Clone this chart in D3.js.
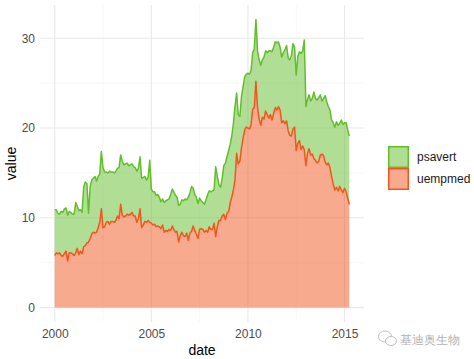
<!DOCTYPE html>
<html>
<head>
<meta charset="utf-8">
<script src="https://cdn.jsdelivr.net/npm/d3@7"></script>
<style>
body { margin: 0; background: #fff; }
svg text { font-family: "Liberation Sans", Arial, sans-serif; }
</style>
</head>
<body>
<div id="chart"></div>
<script>

// monthly values, Jan 2000 .. Apr 2015 (one row per year)
var firstMonth = new Date(2000, 0, 1);
var lastMonth = new Date(2015, 3, 1);

var psavert = [
  5.1, 4.8, 4.5, 4.3, 4.9, 4.9, 5.0, 4.8, 5.1, 4.6, 4.5, 4.4,
  4.6, 5.6, 4.7, 4.9, 4.6, 4.6, 6.6, 7.1, 6.6, 3.2, 5.8, 6.0,
  6.0, 6.3, 5.7, 5.7, 5.4, 6.4, 6.7, 6.1, 5.6, 5.4, 5.9, 5.5,
  5.5, 5.5, 5.5, 5.3, 5.7, 5.5, 6.0, 5.8, 5.8, 5.7, 5.5, 5.5,
  5.4, 5.5, 5.4, 5.7, 5.6, 5.8, 5.5, 5.3, 5.0, 4.7, 4.8, 6.9,
  3.8, 3.7, 3.6, 3.5, 3.5, 3.3, 3.0, 2.9, 3.3, 3.3, 3.5, 3.4,
  4.0, 4.1, 4.2, 4.1, 3.8, 4.1, 3.5, 3.6, 3.9, 4.2, 3.7, 4.8,
  4.5, 5.0, 4.2, 4.0, 4.1, 3.9, 3.5, 3.1, 3.0, 3.1, 3.4, 4.2,
  4.0, 4.2, 4.3, 3.7, 7.8, 5.6, 4.0, 3.7, 4.2, 5.4, 6.3, 6.3,
  6.8, 6.5, 6.8, 7.4, 8.2, 6.7, 5.5, 5.0, 5.7, 5.7, 5.9, 5.9,
  6.1, 6.1, 6.0, 6.3, 6.5, 6.9, 6.3, 6.6, 6.7, 6.4, 6.9, 6.7,
  6.9, 7.5, 7.1, 7.6, 7.4, 7.3, 7.5, 7.2, 7.0, 7.3, 7.6, 8.2,
  8.4, 8.1, 8.4, 8.9, 9.5, 8.9, 8.4, 9.7, 9.9, 10.7, 10.6, 12.2,
  6.6, 6.0, 6.0, 6.0, 6.2, 7.4, 6.9, 7.0, 7.1, 6.7, 5.9, 6.4,
  7.4, 7.0, 6.3, 6.4, 6.3, 6.8, 7.0, 7.3, 7.3, 7.0, 7.8, 7.6,
  7.3, 7.7, 7.6, 7.6
];

var uempmed = [
  5.8, 6.1, 6.0, 6.1, 5.8, 5.7, 6.0, 6.3, 5.2, 6.1, 6.1, 6.0,
  5.8, 6.1, 6.6, 5.9, 6.3, 6.0, 6.8, 6.9, 7.2, 7.3, 7.7, 8.2,
  8.4, 8.3, 8.4, 8.9, 9.5, 11.0, 8.9, 9.0, 9.5, 9.6, 9.3, 9.6,
  9.6, 9.5, 9.7, 10.2, 9.9, 11.5, 10.3, 10.1, 10.2, 10.4, 10.3, 10.4,
  10.6, 10.2, 10.2, 9.5, 9.9, 11.0, 8.9, 9.2, 9.6, 9.5, 9.7, 9.5,
  9.4, 9.2, 9.3, 9.0, 9.1, 9.0, 8.8, 9.2, 8.4, 8.6, 8.5, 8.7,
  8.6, 9.1, 8.7, 8.4, 8.5, 7.3, 8.0, 8.4, 8.0, 7.9, 8.3, 7.5,
  8.3, 8.5, 9.1, 8.6, 8.2, 7.7, 8.7, 8.8, 8.7, 8.4, 8.6, 8.4,
  9.0, 8.7, 8.7, 9.4, 7.9, 9.0, 9.7, 9.7, 10.2, 10.4, 9.8, 10.5,
  10.7, 11.7, 12.3, 13.1, 14.2, 17.2, 16.0, 16.3, 17.8, 18.9, 19.8, 20.1,
  20.0, 19.9, 20.4, 22.1, 22.3, 25.2, 22.3, 21.0, 20.3, 21.2, 21.0, 21.9,
  21.5, 21.1, 21.5, 20.9, 21.6, 22.3, 22.0, 22.4, 22.0, 20.6, 20.8, 20.5,
  20.8, 19.7, 19.2, 19.1, 19.9, 20.1, 17.5, 18.3, 18.6, 17.6, 18.0, 17.6,
  15.8, 17.2, 17.7, 17.0, 17.1, 16.6, 16.4, 16.1, 16.3, 17.0, 17.1, 16.9,
  16.2, 15.9, 16.1, 15.6, 14.6, 13.8, 13.1, 13.4, 13.0, 13.5, 13.1, 12.8,
  13.3, 12.9, 12.2, 11.5
];

var seriesNames = ["psavert", "uempmed"];
var seriesColors = {psavert: "#63be2c", uempmed: "#f2561d"};
var yTicks = [0, 10, 20, 30];
var xTickYears = [2000, 2005, 2010, 2015];

/**
 * Stacked area chart, ggplot theme_minimal look
 */
function AreaChart(){
    var self = this;
    self.init();
};

AreaChart.prototype.init = function(){
    var self = this;
    self.width = 474;
    self.height = 359;
    // panel box
    self.panel = {left: 40, right: 364, top: 5, bottom: 322};

    self.svg = d3.select("#chart").append("svg")
        .attr("width", self.width)
        .attr("height", self.height);

    self.x = d3.scaleTime().range([self.panel.left, self.panel.right]);
    self.y = d3.scaleLinear().range([self.panel.bottom, self.panel.top]);
};

AreaChart.prototype.update = function(){
    var self = this;
    var p = self.panel;

    var months = d3.timeMonth.range(firstMonth, d3.timeMonth.offset(lastMonth, 1));
    var rows = months.map(function(d, i){
        return {date: d, psavert: psavert[i], uempmed: uempmed[i]};
    });

    // uempmed at the bottom, psavert stacked on top
    var layers = d3.stack().keys(["uempmed", "psavert"])(rows);

    // 5% expansion like ggplot
    var span = lastMonth - firstMonth;
    self.x.domain([new Date(+firstMonth - span * 0.05), new Date(+lastMonth + span * 0.05)]);
    var ymax = d3.max(layers[1], function(d){ return d[1]; });
    self.y.domain([-ymax * 0.05, ymax * 1.05]);

    var grid = self.svg.append("g");

    // minor grid lines, half way between the major ones
    var xDates = xTickYears.map(function(yr){ return new Date(yr, 0, 1); });
    var xMinor = d3.pairs(xDates).map(function(pr){ return new Date((+pr[0] + +pr[1]) / 2); });
    var yMinor = d3.pairs(yTicks).map(function(pr){ return (pr[0] + pr[1]) / 2; });

    grid.selectAll(".xminor").data(xMinor).enter().append("line")
        .attr("x1", function(d){ return self.x(d); })
        .attr("x2", function(d){ return self.x(d); })
        .attr("y1", p.top).attr("y2", p.bottom)
        .attr("stroke", "#f2f2f2").attr("stroke-width", 0.6);
    grid.selectAll(".yminor").data(yMinor).enter().append("line")
        .attr("x1", p.left).attr("x2", p.right)
        .attr("y1", function(d){ return self.y(d); })
        .attr("y2", function(d){ return self.y(d); })
        .attr("stroke", "#f2f2f2").attr("stroke-width", 0.6);
    grid.selectAll(".xmajor").data(xDates).enter().append("line")
        .attr("x1", function(d){ return self.x(d); })
        .attr("x2", function(d){ return self.x(d); })
        .attr("y1", p.top).attr("y2", p.bottom)
        .attr("stroke", "#e9e9e9").attr("stroke-width", 1.1);
    grid.selectAll(".ymajor").data(yTicks).enter().append("line")
        .attr("x1", p.left).attr("x2", p.right)
        .attr("y1", function(d){ return self.y(d); })
        .attr("y2", function(d){ return self.y(d); })
        .attr("stroke", "#e9e9e9").attr("stroke-width", 1.1);

    var area = d3.area()
        .x(function(d){ return self.x(d.data.date); })
        .y0(function(d){ return self.y(d[0]); })
        .y1(function(d){ return self.y(d[1]); });

    var upper = d3.line()
        .x(function(d){ return self.x(d.data.date); })
        .y(function(d){ return self.y(d[1]); });

    // psavert first, so the uempmed line sits on top
    var drawOrder = [layers[1], layers[0]];
    drawOrder.forEach(function(layer){
        var c = seriesColors[layer.key];
        self.svg.append("path")
            .datum(layer)
            .attr("d", area)
            .attr("fill", c)
            .attr("fill-opacity", 0.5);
        self.svg.append("path")
            .datum(layer)
            .attr("d", upper)
            .attr("fill", "none")
            .attr("stroke", c)
            .attr("stroke-width", 1.5)
            .attr("stroke-linejoin", "round");
    });

    // axes
    var xAxis = self.svg.append("g")
        .attr("transform", "translate(0," + p.bottom + ")")
        .call(d3.axisBottom(self.x).tickValues(xDates).tickFormat(d3.timeFormat("%Y")).tickSize(0).tickPadding(7));
    var yAxis = self.svg.append("g")
        .attr("transform", "translate(" + p.left + ",0)")
        .call(d3.axisLeft(self.y).tickValues(yTicks).tickSize(0).tickPadding(5));
    [xAxis, yAxis].forEach(function(a){
        a.select(".domain").remove();
        a.selectAll("text")
            .attr("font-size", 12)
            .attr("font-family", "Liberation Sans, Arial, sans-serif")
            .attr("fill", "#4d4d4d");
    });

    self.svg.append("text")
        .attr("x", (p.left + p.right) / 2)
        .attr("y", 355)
        .attr("text-anchor", "middle")
        .attr("font-size", 14)
        .text("date");

    self.svg.append("text")
        .attr("transform", "translate(16," + ((p.top + p.bottom) / 2) + ") rotate(-90)")
        .attr("text-anchor", "middle")
        .attr("font-size", 14)
        .text("value");

    // legend
    var legend = self.svg.append("g").attr("transform", "translate(388,146)");
    seriesNames.forEach(function(name, i){
        var c = seriesColors[name];
        legend.append("rect")
            .attr("x", 0.75).attr("y", i * 22 + 0.75)
            .attr("width", 19.5).attr("height", 20.5)
            .attr("fill", c).attr("fill-opacity", 0.5)
            .attr("stroke", c).attr("stroke-width", 1.5);
        legend.append("text")
            .attr("x", 29).attr("y", i * 22 + 11)
            .attr("dy", "0.35em")
            .attr("font-size", 12)
            .attr("fill", "#1a1a1a")
            .text(name);
    });

    // watermark
    var wm = self.svg.append("g").attr("opacity", 0.75);
    wm.append("ellipse").attr("cx", 385).attr("cy", 336.5).attr("rx", 6.5).attr("ry", 5.5)
        .attr("fill", "#fff").attr("stroke", "#a9a9a9").attr("stroke-width", 1);
    wm.append("ellipse").attr("cx", 391).attr("cy", 341).attr("rx", 5.5).attr("ry", 4.5)
        .attr("fill", "#fff").attr("stroke", "#a9a9a9").attr("stroke-width", 1);
    wm.append("text")
        .attr("x", 400).attr("y", 344)
        .attr("font-size", 12)
        .attr("font-family", "Noto Sans CJK SC, sans-serif")
        .attr("fill", "#9a9a9a")
        .text("基迪奥生物");
};

var chart = new AreaChart();
chart.update();

</script>
</body>
</html>
